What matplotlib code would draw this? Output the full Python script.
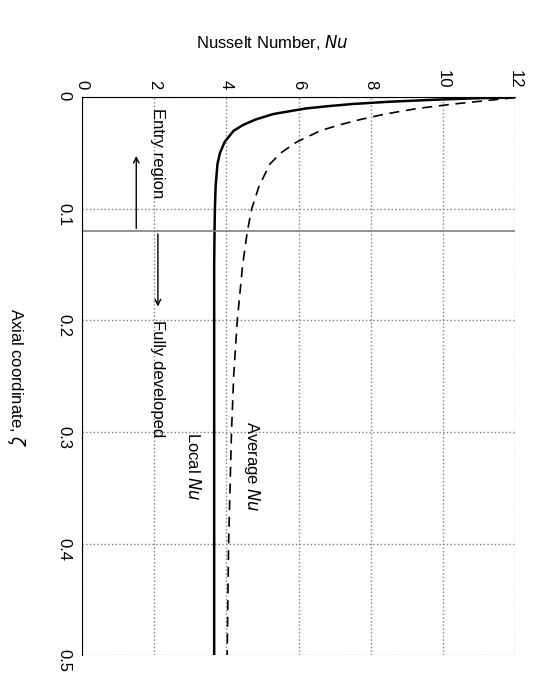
import matplotlib.pyplot as plt

# values (axes are rotated: Nu across, zeta down)
zeta = [0, 0.001, 0.002, 0.004, 0.006, 0.008, 0.01, 0.015, 0.02, 0.025, 0.03, 0.04,
        0.05, 0.06, 0.08, 0.1, 0.12, 0.15, 0.2, 0.25, 0.3, 0.4, 0.5]
nu_local = [12, 10.8, 9.9, 8.5, 7.5, 6.8, 6.2, 5.3, 4.8, 4.45, 4.2, 3.95,
            3.82, 3.75, 3.7, 3.68, 3.67, 3.66, 3.66, 3.66, 3.66, 3.66, 3.66]
nu_avg = [12, 11.8, 11.5, 10.9, 10.3, 9.8, 9.3, 8.4, 7.7, 7.1, 6.6, 5.95,
          5.5, 5.2, 4.9, 4.7, 4.58, 4.45, 4.3, 4.2, 4.14, 4.06, 4.02]
nu_ticks = [0, 2, 4, 6, 8, 10, 12]
zeta_ticks = [0, 0.1, 0.2, 0.3, 0.4, 0.5]
zeta_entry = 0.12

plt.rcParams['font.family'] = ['Liberation Sans', 'DejaVu Sans']
fig = plt.figure(figsize=(5.55, 7), dpi=100)
ax = fig.add_axes([0.148, 0.064, 0.78, 0.797])

ax.plot(nu_local, zeta, color='black', lw=1.8)
ax.plot(nu_avg, zeta, color='black', lw=1.2, ls=(0, (6, 4)))
ax.axhline(zeta_entry, color='gray', lw=1.2)

ax.set_xlim(0, 12)
ax.set_ylim(0.5, 0)
ax.set_xticks(nu_ticks)
ax.set_yticks(zeta_ticks)
ax.set_yticklabels(['0', '0.1', '0.2', '0.3', '0.4', '0.5'])
ax.xaxis.tick_top()
ax.tick_params(axis='x', labelrotation=-90, labelsize=12, length=0, pad=6)
ax.tick_params(axis='y', labelrotation=-90, labelsize=12, length=0, pad=8)
ax.grid(True, color='gray', ls=':', lw=1)
ax.spines['bottom'].set_visible(False)
ax.spines['right'].set_visible(False)

ax.annotate('', xy=(1.5, 0.05), xytext=(1.5, zeta_entry),
            arrowprops=dict(arrowstyle='->', color='black', lw=1))
ax.annotate('', xy=(2.1, 0.19), xytext=(2.1, zeta_entry),
            arrowprops=dict(arrowstyle='->', color='black', lw=1))
ax.text(2.1, 0.01, 'Entry region', rotation=-90, va='top', ha='center', fontsize=12)
ax.text(2.1, 0.2, 'Fully developed', rotation=-90, va='top', ha='center', fontsize=12)
ax.text(3.1, 0.3, 'Local $Nu$', rotation=-90, va='top', ha='center', fontsize=12)
ax.text(4.7, 0.29, 'Average $Nu$', rotation=-90, va='top', ha='center', fontsize=12)

fig.text(0.49, 0.94, 'Nusselt Number, $Nu$', ha='center', va='center', fontsize=12)
fig.text(0.028, 0.46, 'Axial coordinate, $\\zeta$', rotation=-90, ha='center', va='center', fontsize=12)

fig.savefig('out.png', dpi=100)
